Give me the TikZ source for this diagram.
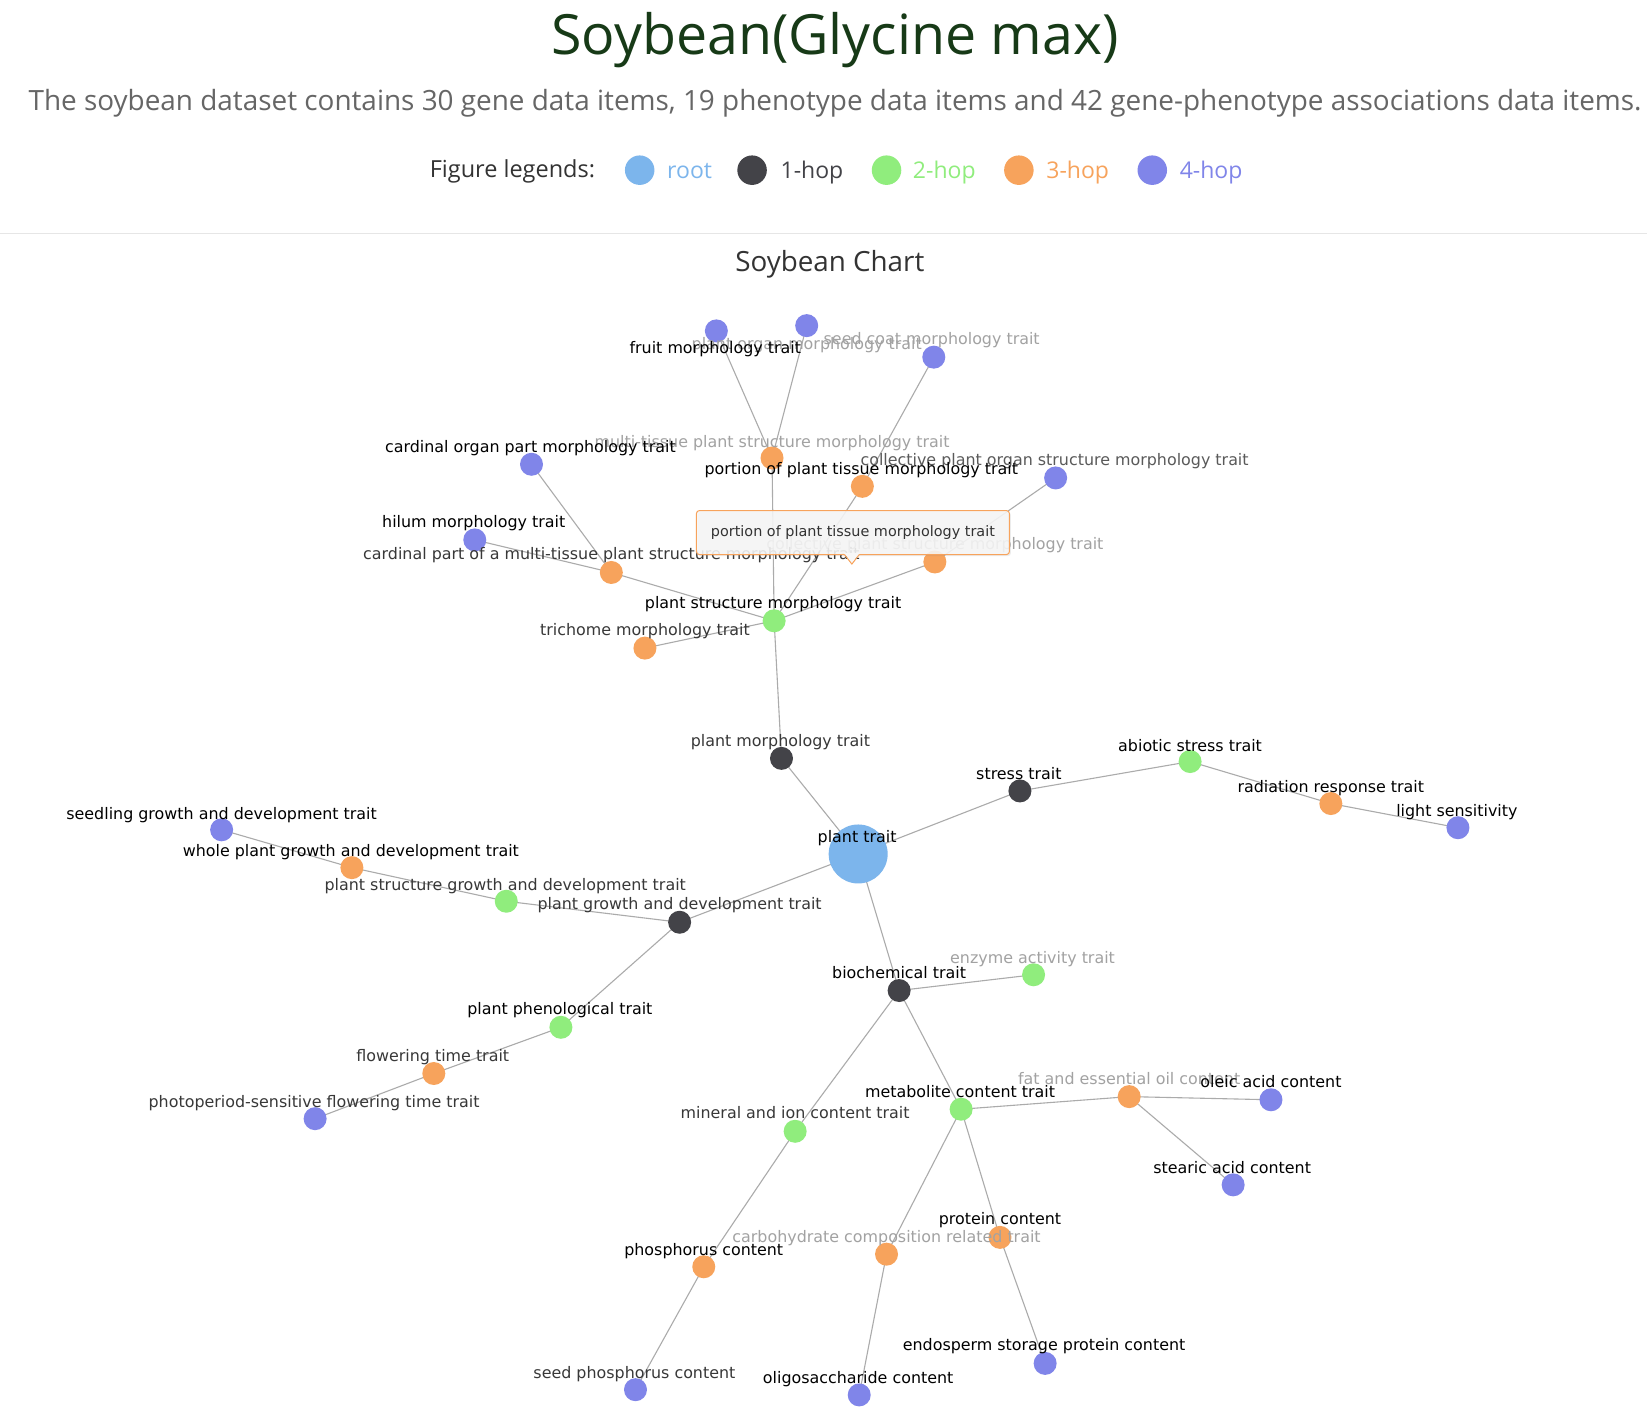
\documentclass[tikz,border=0pt]{standalone}
\usepackage{fontspec}
\setmainfont{DejaVu Sans}
\newfontfamily\headfont{Open Sans}
\usetikzlibrary{calc,shadows}
\pgfdeclarelayer{bglayer}
\pgfdeclarelayer{edgelayer}
\pgfsetlayers{bglayer,edgelayer,main}
\definecolor{cRoot}{HTML}{7CB5EC}
\definecolor{cHopA}{HTML}{434348}
\definecolor{cHopB}{HTML}{90ED7D}
\definecolor{cHopC}{HTML}{F7A35C}
\definecolor{cHopD}{HTML}{8085E9}
\definecolor{titlegreen}{HTML}{173A17}
\definecolor{edgegrey}{HTML}{ABABAB}
\definecolor{labdark}{HTML}{383838}
\definecolor{labmid}{HTML}{5A5A5A}
\definecolor{labgrey}{HTML}{A2A2A2}
\definecolor{subgrey}{HTML}{666666}
\definecolor{txtdark}{HTML}{333333}
\definecolor{rulegrey}{HTML}{E6E6E6}
\definecolor{tipfill}{HTML}{F7F7F7}
\begin{document}
\begin{tikzpicture}[x=1.0504pt,y=-1.0504pt,
  dot/.style={circle,inner sep=0pt,minimum size=23pt,draw=none},
  rootdot/.style={circle,inner sep=0pt,minimum size=59pt,fill=cRoot,draw=none},
  hopA/.style={dot,fill=cHopA},
  hopB/.style={dot,fill=cHopB},
  hopC/.style={dot,fill=cHopC},
  hopD/.style={dot,fill=cHopD},
  legdot/.style={circle,inner sep=0pt,minimum size=29.5pt,draw=none},
  edge/.style={draw=edgegrey,line width=1.1pt},
  lab/.style={font=\fontsize{15.9}{18}\selectfont,inner sep=0pt,anchor=base},
  labk/.style={lab,text=black},
  labd/.style={lab,text=labdark},
  labm/.style={lab,text=labmid},
  labg/.style={lab,text=labgrey},
  legtext/.style={font=\headfont\fontsize{23}{26}\selectfont,inner sep=0pt,anchor=base west},
]
\begin{pgfonlayer}{bglayer}
\fill[white] (0,0) rectangle (1568,1349);
\end{pgfonlayer}
\useasboundingbox (0,0) rectangle (1568,1349);

% header
\node[font=\headfont\fontsize{55.5}{60}\selectfont,text=titlegreen,inner sep=0pt,anchor=base] (title) at (795,52) {Soybean(Glycine max)};
\node[font=\headfont\fontsize{27.9}{30}\selectfont,text=subgrey,inner sep=0pt,anchor=base] (subtitle) at (795,105) {The soybean dataset contains 30 gene data items, 19 phenotype data items and 42 gene-phenotype associations data items.};
\node[legtext,text=txtdark,font=\headfont\fontsize{23.5}{26}\selectfont] (legtitle) at (409,169) {Figure legends:};
\node[legdot,fill=cRoot] (lg0) at (609,162) {};
\node[legtext,text=cRoot] (lt0) at (635,170) {root};
\node[legdot,fill=cHopA] (lg1) at (716,162) {};
\node[legtext,text=cHopA] (lt1) at (743,170) {1-hop};
\node[legdot,fill=cHopB] (lg2) at (844,162) {};
\node[legtext,text=cHopB] (lt2) at (869,170) {2-hop};
\node[legdot,fill=cHopC] (lg3) at (970,162) {};
\node[legtext,text=cHopC] (lt3) at (996,170) {3-hop};
\node[legdot,fill=cHopD] (lg4) at (1097,162) {};
\node[legtext,text=cHopD] (lt4) at (1123,170) {4-hop};
\coordinate (ruleL) at (0,222);
\coordinate (ruleR) at (1568,222);
\draw[rulegrey,line width=1pt] (ruleL) -- (ruleR);
\node[font=\headfont\fontsize{27.8}{30}\selectfont,text=txtdark,inner sep=0pt,anchor=base] (charttitle) at (790,258) {Soybean Chart};

% nodes
\node[rootdot] (root) at (817,813) {};
\node[hopA] (pm) at (744,722) {};
\node[hopA] (st) at (971,753) {};
\node[hopA] (pgd) at (647,878) {};
\node[hopA] (bc) at (856,943) {};
\node[hopB] (psm) at (737,591) {};
\node[hopB] (ast) at (1133,725) {};
\node[hopB] (psgd) at (482,858) {};
\node[hopB] (ppt) at (534,978) {};
\node[hopB] (eat) at (984,928) {};
\node[hopB] (mic) at (757,1077) {};
\node[hopB] (mct) at (915,1056) {};
\node[hopC] (mtp) at (735,436) {};
\node[hopC] (ptm) at (821,463) {};
\node[hopC] (cpm) at (582,545) {};
\node[hopC] (cps) at (890,535) {};
\node[hopC] (tri) at (614,617) {};
\node[hopC] (wpg) at (335,826) {};
\node[hopC] (rrt) at (1267,765) {};
\node[hopC] (ftt) at (413,1022) {};
\node[hopC] (fat) at (1075,1044) {};
\node[hopC] (pho) at (670,1206) {};
\node[hopC] (carb) at (844,1194) {};
\node[hopC] (prot) at (952,1178) {};
\node[hopD] (fru) at (682,315) {};
\node[hopD] (pom) at (768,310) {};
\node[hopD] (scm) at (889,340) {};
\node[hopD] (cop) at (506,442) {};
\node[hopD] (cpo) at (1005,455) {};
\node[hopD] (hil) at (452,514) {};
\node[hopD] (sgd) at (211,790) {};
\node[hopD] (ls) at (1388,788) {};
\node[hopD] (pft) at (300,1065) {};
\node[hopD] (ole) at (1210,1047) {};
\node[hopD] (ste) at (1174,1128) {};
\node[hopD] (sph) at (605,1323) {};
\node[hopD] (oli) at (818,1328) {};
\node[hopD] (esp) at (995,1298) {};

% edges
\begin{pgfonlayer}{edgelayer}
\foreach \a/\b in {root/pm,root/st,root/pgd,root/bc,pm/psm,st/ast,ast/rrt,rrt/ls,
  pgd/psgd,pgd/ppt,psgd/wpg,wpg/sgd,ppt/ftt,ftt/pft,
  bc/eat,bc/mic,bc/mct,mic/pho,pho/sph,
  mct/fat,mct/carb,mct/prot,fat/ole,fat/ste,carb/oli,prot/esp,
  psm/mtp,psm/ptm,psm/cpm,psm/cps,psm/tri,
  mtp/fru,mtp/pom,ptm/scm,cps/cpo,cpm/cop,cpm/hil}
  \draw[edge] (\a.center) -- (\b.center);
\end{pgfonlayer}

% labels: faded ones first
\node[labg] (pom-l) at (768,333) {plant organ morphology trait};
\node[labg] (scm-l) at (887,328) {seed coat morphology trait};
\node[labg] (mtp-l) at (735,426) {multi-tissue plant structure morphology trait};
\node[labg] (cps-l) at (890,523) {collective plant structure morphology trait};
\node[labg] (eat-l) at (983,917) {enzyme activity trait};
\node[labg] (fat-l) at (1075,1032) {fat and essential oil content};
\node[labg] (carb-l) at (844,1183) {carbohydrate composition related trait};
\node[labm] (cpo-l) at (1004,443) {collective plant organ structure morphology trait};
% dark ones
\node[labd] (cpm-l) at (582,533) {cardinal part of a multi-tissue plant structure morphology trait};
\node[labd] (tri-l) at (614,605) {trichome morphology trait};
\node[labd] (pm-l) at (743,711) {plant morphology trait};
\node[labd] (psgd-l) at (481,848) {plant structure growth and development trait};
\node[labd] (pgd-l) at (647,866) {plant growth and development trait};
\node[labd] (ftt-l) at (412,1011) {flowering time trait};
\node[labd] (pft-l) at (299,1054) {photoperiod-sensitive flowering time trait};
\node[labd] (mic-l) at (757,1065) {mineral and ion content trait};
\node[labd] (sph-l) at (604,1312) {seed phosphorus content};
% black ones
\node[labk] (fru-l) at (681,337) {fruit morphology trait};
\node[labk] (cop-l) at (505,431) {cardinal organ part morphology trait};
\node[labk] (ptm-l) at (820,452) {portion of plant tissue morphology trait};
\node[labk] (hil-l) at (451,502) {hilum morphology trait};
\node[labk] (psm-l) at (736,579) {plant structure morphology trait};
\node[labk] (ast-l) at (1133,715) {abiotic stress trait};
\node[labk] (st-l) at (970,742) {stress trait};
\node[labk] (rrt-l) at (1267,754) {radiation response trait};
\node[labk] (ls-l) at (1387,777) {light sensitivity};
\node[labk] (sgd-l) at (211,780) {seedling growth and development trait};
\node[labk] (root-l) at (816,802) {plant trait};
\node[labk] (wpg-l) at (334,815) {whole plant growth and development trait};
\node[labk] (bc-l) at (856,932) {biochemical trait};
\node[labk] (ppt-l) at (533,966) {plant phenological trait};
\node[labk] (ole-l) at (1210,1035) {oleic acid content};
\node[labk] (mct-l) at (914,1045) {metabolite content trait};
\node[labk] (ste-l) at (1173,1117) {stearic acid content};
\node[labk] (prot-l) at (952,1166) {protein content};
\node[labk] (pho-l) at (670,1195) {phosphorus content};
\node[labk] (esp-l) at (994,1286) {endosperm storage protein content};
\node[labk] (oli-l) at (817,1317) {oligosaccharide content};

% tooltip
\node[draw=cHopC,line width=1pt,fill=tipfill,fill opacity=0.88,text opacity=1,
  rounded corners=3pt,minimum width=313pt,minimum height=44pt,inner sep=0pt,
  drop shadow={opacity=0.15,shadow xshift=1.5pt,shadow yshift=-1.5pt},
  text=txtdark,font=\fontsize{14.4}{17}\selectfont] (tooltip) at (812,507) {portion of plant tissue morphology trait};
\coordinate (tipL) at (804,528);
\coordinate (tipC) at (811,537);
\coordinate (tipR) at (818,528);
\fill[tipfill] ($(tipL)+(-1,-1.5)$) -- ($(tipC)+(0,-1.5)$) -- ($(tipR)+(1,-1.5)$) -- cycle;
\draw[cHopC,line width=1pt] (tipL) -- (tipC) -- (tipR);
\end{tikzpicture}
\end{document}
